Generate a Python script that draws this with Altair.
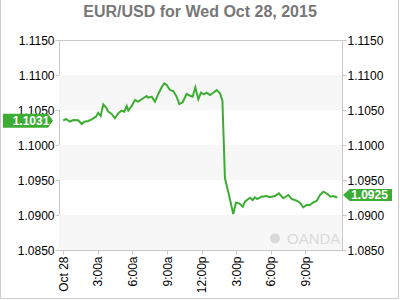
import altair as alt
import pandas as pd

# ---- data ----
hours = [0.00, 0.23, 0.58, 0.87, 1.30, 1.60, 1.82, 2.17, 2.46, 2.84, 3.03, 3.24, 3.47, 3.76,
         3.90, 4.20, 4.48, 4.77, 5.06, 5.29, 5.50, 5.64, 5.93, 6.22, 6.50, 6.80, 7.23, 7.37,
         7.67, 7.95, 8.24, 8.53, 8.76, 8.97, 9.25, 9.54, 9.83, 10.06, 10.35, 10.70, 10.99,
         11.22, 11.45, 11.71, 11.94, 12.20, 12.43, 12.72, 12.95, 13.30, 13.59, 13.80, 14.02,
         14.37, 14.74, 14.97, 15.26, 15.56, 15.75, 16.19, 16.42, 16.62, 16.82, 17.20, 17.64,
         17.92, 18.35, 18.70, 19.08, 19.51, 19.80, 20.24, 20.52, 20.81, 21.10, 21.39, 21.68,
         21.97, 22.26, 22.54, 22.83, 23.18, 23.41, 23.76]
rates = [1.10347, 1.10371, 1.10333, 1.10357, 1.10353, 1.10300, 1.10333, 1.10343, 1.10367,
         1.10404, 1.10461, 1.10414, 1.10581, 1.10524, 1.10476, 1.10443, 1.10381, 1.10453,
         1.10490, 1.10476, 1.10557, 1.10490, 1.10557, 1.10643, 1.10619, 1.10653, 1.10700,
         1.10676, 1.10690, 1.10619, 1.10729, 1.10824, 1.10881, 1.10857, 1.10786, 1.10771,
         1.10690, 1.10586, 1.10610, 1.10729, 1.10704, 1.10690, 1.10824, 1.10653, 1.10747,
         1.10724, 1.10747, 1.10714, 1.10739, 1.10786, 1.10739, 1.10633, 1.09524, 1.09286,
         1.09014, 1.09176, 1.09167, 1.09119, 1.09190, 1.09247, 1.09214, 1.09253, 1.09229,
         1.09261, 1.09271, 1.09253, 1.09271, 1.09310, 1.09239, 1.09286, 1.09229, 1.09204,
         1.09176, 1.09110, 1.09143, 1.09143, 1.09181, 1.09200, 1.09286, 1.09333, 1.09310,
         1.09261, 1.09271, 1.09250]

tick_hours = [0, 3, 6, 9, 12, 15, 18, 21]
tick_labels = ["Oct 28", "3:00a", "6:00a", "9:00a", "12:00p", "3:00p", "6:00p", "9:00p"]
y_ticks = [1.0850, 1.0900, 1.0950, 1.1000, 1.1050, 1.1100, 1.1150]
band_lo = [1.0850, 1.0950, 1.1050]
band_hi = [1.0900, 1.1000, 1.1100]
open_label = "1.1031"
open_pos = 1.10345
last_label = "1.0925"
last_pos = 1.09285
title_text = "EUR/USD for Wed Oct 28, 2015"
watermark = "OANDA"

GREEN = "#3cad32"
W, H = 283, 210
PAD = {"left": 59, "top": 40, "right": 58, "bottom": 50}

line_df = pd.DataFrame({"h": hours, "r": rates})
band_df = pd.DataFrame({"lo": band_lo, "hi": band_hi})

xscale = alt.Scale(domain=[-0.37, 24.17], nice=False, zero=False)
yscale = alt.Scale(domain=[1.0850, 1.1150], nice=False, zero=False)

label_expr = "[" + ",".join("'%s'" % t for t in tick_labels) + "][round(datum.value/3)]"

x_axis = alt.Axis(values=tick_hours, labelExpr=label_expr, labelAngle=270, title=None,
                  grid=False, tickSize=4, labelPadding=2, domain=False,
                  tickColor="#c8c8c8", labelColor="#000", labelFontSize=12,
                  labelFont="Liberation Sans")

def y_axis(orient):
    return alt.Axis(orient=orient, values=y_ticks, format=".4f", title=None, grid=False,
                    tickSize=4, labelPadding=1, domain=False, tickColor="#c8c8c8",
                    labelColor="#000", labelFontSize=12, labelFont="Liberation Sans")

bands = alt.Chart(band_df).mark_rect(color="#f7f7f7").encode(
    x=alt.value(0), x2=alt.value(W),
    y=alt.Y("lo:Q", scale=yscale, axis=y_axis("right")),
    y2="hi:Q",
)

frame = alt.Chart(band_df.head(1)).mark_rect(fill=None, stroke="#cccccc", strokeWidth=1).encode(
    x=alt.value(-58.5), x2=alt.value(339.5), y=alt.value(-41), y2=alt.value(258.5)
)

line = alt.Chart(line_df).mark_line(color=GREEN, strokeWidth=2).encode(
    x=alt.X("h:Q", scale=xscale, axis=x_axis),
    y=alt.Y("r:Q", scale=yscale, axis=y_axis("left")),
)

tag_df = pd.DataFrame({
    "pos": [open_pos, last_pos],
    "txt": [open_label, last_label],
    "tx": [-28, 310.5],
})
left_shape = "M-1,-0.28L0.8,-0.28L1,0L0.8,0.28L-1,0.28Z"
right_shape = "M-1,0L-0.73,-0.245L1,-0.245L1,0.245L-0.73,0.245Z"

tags_left = alt.Chart(tag_df.iloc[[0]]).mark_point(
    shape=left_shape, size=2500, filled=True, color=GREEN, opacity=1, strokeWidth=0
).encode(x=alt.value(-31), y=alt.Y("pos:Q", scale=yscale, axis=None))
tags_right = alt.Chart(tag_df.iloc[[1]]).mark_point(
    shape=right_shape, size=2401, filled=True, color=GREEN, opacity=1, strokeWidth=0
).encode(x=alt.value(308.5), y=alt.Y("pos:Q", scale=yscale, axis=None))

tag_text = alt.Chart(tag_df).mark_text(
    color="white", fontWeight="bold", fontSize=12, font="Liberation Sans", baseline="middle"
).encode(x=alt.X("tx:Q", scale=None, axis=None), y=alt.Y("pos:Q", scale=yscale, axis=None),
         text="txt:N")

wm_df = pd.DataFrame({"t": [watermark]})
wm_logo = alt.Chart(wm_df).mark_point(shape="circle", size=100, filled=True,
                                      color="#d9d9d9", opacity=1).encode(
    x=alt.value(216), y=alt.value(198.5))
wm_text = alt.Chart(wm_df).mark_text(fontSize=15, font="Liberation Sans", color="#dadada",
                                     align="left", baseline="middle").encode(
    x=alt.value(228), y=alt.value(198.5), text="t:N")

title_df = pd.DataFrame({"t": [title_text]})
title_mark = alt.Chart(title_df).mark_text(
    fontSize=16, font="Liberation Sans", fontWeight="bold", color="#777777",
    align="center", baseline="alphabetic"
).encode(x=alt.value(141), y=alt.value(-23), text="t:N")

chart = alt.layer(bands, frame, line, tags_left, tags_right, tag_text, wm_logo, wm_text,
                  title_mark).resolve_axis(
    y="independent"
).properties(
    width=W, height=H,
    padding=PAD,
    autosize=alt.AutoSizeParams(type="none"),
    background="white",
).configure_view(stroke="#c8c8c8")

chart.save("out.html", embed_options={"renderer": "svg", "actions": False})
